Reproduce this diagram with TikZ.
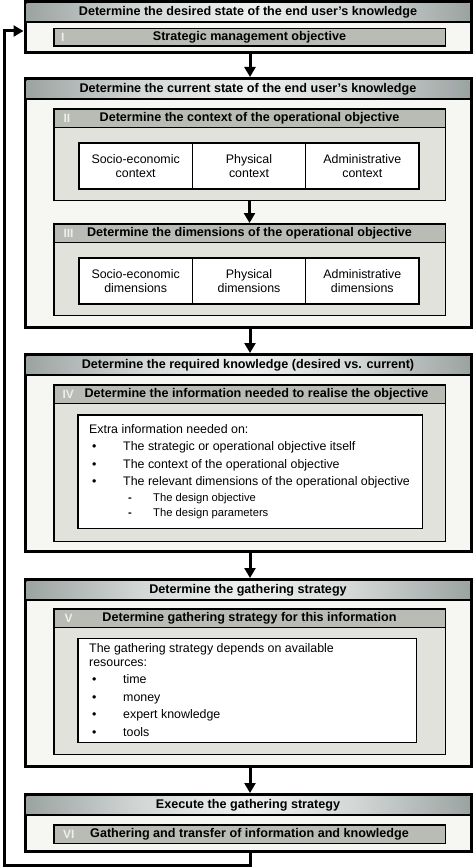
\documentclass[tikz,border=0pt]{standalone}
\usepackage{fontspec}
\setmainfont{Liberation Sans}
\usetikzlibrary{arrows.meta,calc}
\definecolor{hd}{HTML}{3A4242}
\definecolor{hm}{HTML}{7E8785}
\definecolor{hl}{HTML}{D3D8D7}
\definecolor{hc}{HTML}{EEF0EF}
\definecolor{obg}{HTML}{F6F6F3}
\definecolor{ihd}{HTML}{B9BBB5}
\definecolor{ibg}{HTML}{E1E2DC}
\definecolor{numc}{HTML}{EEEEEE}
\pgfdeclarehorizontalshading{hdr}{100bp}{color(0bp)=(hd); color(18bp)=(hm); color(38bp)=(hl); color(50bp)=(hc); color(62bp)=(hl); color(82bp)=(hm); color(100bp)=(hd)}
\tikzset{
  obox/.style={rectangle, draw=black, fill=obg, line width=3pt, minimum width=446pt, inner sep=0pt},
  ohead/.style={rectangle, shading=hdr, minimum width=443pt, minimum height=18.5pt, inner sep=0pt, anchor=north, font=\bfseries\fontsize{12.6}{14}\selectfont},
  ibox/.style={rectangle, draw=black, fill=ibg, line width=1.5pt, minimum width=391.5pt, inner sep=0pt},
  ibar/.style={rectangle, draw=black, fill=ihd, line width=1.5pt, minimum width=391.5pt, inner sep=0pt, font=\bfseries\fontsize{12.6}{14}\selectfont},
  ihead/.style={rectangle, fill=ihd, minimum width=390pt, minimum height=17.5pt, inner sep=0pt, anchor=north, font=\bfseries\fontsize{12.6}{14}\selectfont},
  numlab/.style={text=numc, font=\bfseries\fontsize{12}{14}\selectfont, anchor=west, inner sep=0pt},
  cell/.style={rectangle, draw=black, fill=white, line width=1.5pt, minimum width=113.33pt, minimum height=46pt, inner sep=0pt, outer sep=0pt, align=center, font=\fontsize{12.4}{14}\selectfont},
  wbox/.style={rectangle, draw=black, fill=white, line width=1.5pt, inner sep=0pt},
  listtext/.style={anchor=north west, align=left, inner sep=0pt, font=\fontsize{12.4}{17.5}\selectfont},
  sepline/.style={line width=1.5pt},
  arr/.style={line width=3pt, -{Triangle[width=11pt,length=10pt]}},
}
\newcommand{\bul}[1]{\hspace*{3pt}\makebox[31pt][l]{•}#1}
\newcommand{\subit}[1]{{\fontsize{11.2}{14}\selectfont\hspace*{39pt}\makebox[25pt][l]{\bfseries -}#1}}
\begin{document}
\begin{tikzpicture}[x=1pt,y=-1pt]
\useasboundingbox (0,0) rectangle (474,867);

% ---------- Box 1
\node[obox, minimum height=51pt] (b1) at (248,27) {};
\node[ohead] (h1) at ([yshift=-3pt]b1.north) {Determine the desired state of the end user’s knowledge};
\draw[sepline] (h1.south west) -- (h1.south east);
\node[ibar, minimum height=17.5pt] (i1) at (249.5,37.5) {Strategic management objective};
\node[numlab] (n1) at ([xshift=8pt]i1.west) {I};

% ---------- Box 2
\node[obox, minimum height=249pt] (b2) at (248,203) {};
\node[ohead] (h2) at ([yshift=-3pt]b2.north) {Determine the current state of the end user’s knowledge};
\draw[sepline] (h2.south west) -- (h2.south east);

\node[ibox, minimum height=91.5pt] (i2) at (249.5,154.5) {};
\node[ihead] (ih2) at ([yshift=-1.5pt]i2.north) {Determine the context of the operational objective};
\draw[sepline] (ih2.south west) -- (ih2.south east);
\node[numlab] (n2) at ([xshift=9pt]ih2.west) {II};
\node[cell] (c21) at (135.67,166) {Socio-economic\\context};
\node[cell, anchor=west] (c22) at (c21.east) {Physical\\context};
\node[cell, anchor=west] (c23) at (c22.east) {Administrative\\context};

\node[ibox, minimum height=91.5pt] (i3) at (249.5,269.5) {};
\node[ihead] (ih3) at ([yshift=-1.5pt]i3.north) {Determine the dimensions of the operational objective};
\draw[sepline] (ih3.south west) -- (ih3.south east);
\node[numlab] (n3) at ([xshift=9pt]ih3.west) {III};
\node[cell] (c31) at (135.67,281) {Socio-economic\\dimensions};
\node[cell, anchor=west] (c32) at (c31.east) {Physical\\dimensions};
\node[cell, anchor=west] (c33) at (c32.east) {Administrative\\dimensions};

% ---------- Box 3
\node[obox, minimum height=197pt] (b3) at (248,453) {};
\node[ohead] (h3) at ([yshift=-3pt]b3.north) {Determine the required knowledge (desired vs. current)};
\draw[sepline] (h3.south west) -- (h3.south east);
\node[ibox, minimum height=156.5pt] (i4) at (249.5,463) {};
\node[ihead] (ih4) at ([yshift=-1.5pt]i4.north) {\hspace*{14pt}Determine the information needed to realise the objective};
\draw[sepline] (ih4.south west) -- (ih4.south east);
\node[numlab] (n4) at ([xshift=8pt]ih4.west) {IV};
\node[wbox, minimum width=344.5pt, minimum height=113.5pt] (w4) at (250,471.5) {};
\node[listtext] (t4) at (89,424) {Extra information needed on:\\
\bul{The strategic or operational objective itself}\\
\bul{The context of the operational objective}\\
\bul{The relevant dimensions of the operational objective}\\[-2pt]
\subit{The design objective}\\[-2pt]
\subit{The design parameters}};

% ---------- Box 4
\node[obox, minimum height=187pt] (b4) at (248,673) {};
\node[ohead] (h4) at ([yshift=-3pt]b4.north) {Determine the gathering strategy};
\draw[sepline] (h4.south west) -- (h4.south east);
\node[ibox, minimum height=145.5pt] (i5) at (249.5,681.5) {};
\node[ihead] (ih5) at ([yshift=-1.5pt]i5.north) {Determine gathering strategy for this information};
\draw[sepline] (ih5.south west) -- (ih5.south east);
\node[numlab] (n5) at ([xshift=10pt]ih5.west) {V};
\node[wbox, minimum width=338.5pt, minimum height=104pt] (w5) at (247,690.5) {};
\node[listtext] (t5) at (89,643) {The gathering strategy depends on available\\[-3.5pt]
resources:\\
\bul{time}\\
\bul{money}\\
\bul{expert knowledge}\\
\bul{tools}};

% ---------- Box 5
\node[obox, minimum height=57pt] (b5) at (248,823) {};
\node[ohead] (h5) at ([yshift=-3pt]b5.north) {Execute the gathering strategy};
\draw[sepline] (h5.south west) -- (h5.south east);
\node[ibar, minimum height=18.5pt] (i6) at (249.5,834) {Gathering and transfer of information and knowledge};
\node[numlab] (n6) at ([xshift=10pt]i6.west) {VI};

% ---------- Connectors
\draw[arr] ([xshift=2pt]b1.south) -- ([xshift=2pt]b2.north);
\draw[arr] (i2.south) -- (i3.north);
\draw[arr] ([xshift=2pt]b2.south) -- ([xshift=2pt]b3.north);
\draw[arr] ([xshift=2pt]b3.south) -- ([xshift=2pt]b4.north);
\draw[arr] ([xshift=2pt]b4.south) -- ([xshift=2pt]b5.north);

\coordinate (fb1) at (250,865);
\coordinate (fb2) at (4,865);
\coordinate (fb3) at (4,31);
\draw[arr] ([xshift=2pt]b5.south) -- (fb1) -- (fb2) -- (fb3) -- (b1.west |- fb3);
\end{tikzpicture}
\end{document}
